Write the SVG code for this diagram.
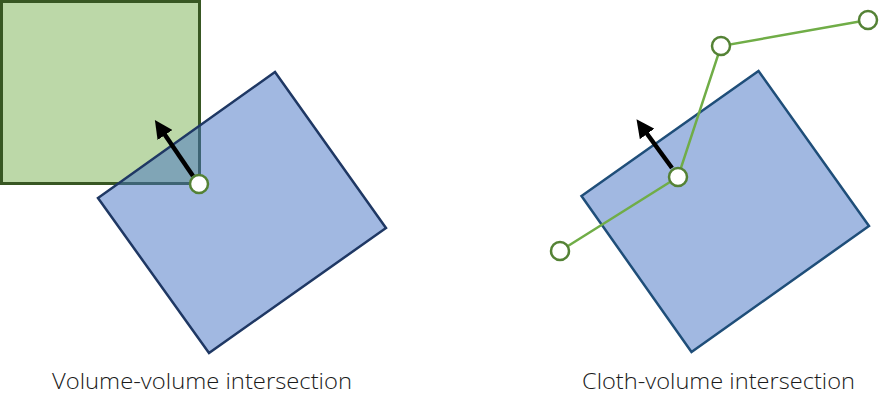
<svg xmlns="http://www.w3.org/2000/svg" width="883" height="403" viewBox="0 0 883 403">
<style>
.vol{fill:#4472c4;fill-opacity:0.5;stroke:#1f3864;stroke-width:2.5;stroke-linejoin:miter}
.pt{fill:#fff;stroke:#548235;stroke-width:2.5}
.cloth{fill:none;stroke:#70ad47;stroke-width:2.5}
.nrm{stroke:#000;stroke-width:4.5;fill:none}
.lbl{font-family:"Open Sans","Noto Sans",sans-serif;font-size:22px;font-weight:300;fill:#1a1a1a}
</style>
<defs>
<marker id="ah" viewBox="0 0 10 10" refX="2" refY="5" markerWidth="4" markerHeight="4" orient="auto" markerUnits="strokeWidth">
<path d="M0,0 L10,5 L0,10 Z" fill="#000"/>
</marker>
</defs>
<g id="left-scene">
<rect id="green-volume" x="1.5" y="1.5" width="198" height="182" fill="#70ad47" fill-opacity="0.47" stroke="#385723" stroke-width="3"/>
<polygon id="blue-volume-left" class="vol" points="275,72 386,228 209,353 98,198"/>
<g id="connectors-left"><line class="nrm" x1="193" y1="176" x2="163" y2="132" marker-end="url(#ah)"/></g>
<circle id="point-left" class="pt" cx="199" cy="184" r="9"/>
</g>
<g id="right-scene">
<polygon id="blue-volume-right" class="vol" points="758.5,71 869,226 691.5,352 581.5,196" style="stroke:#1f4e79"/>
<g id="connectors-right">
<polyline class="cloth" points="560,251 678,177 721,46 868,20"/>
<line class="nrm" x1="672" y1="168" x2="645" y2="131" marker-end="url(#ah)"/>
</g>
<circle id="p1" class="pt" cx="560" cy="251" r="9"/>
<circle id="p2" class="pt" cx="678" cy="177" r="9"/>
<circle id="p3" class="pt" cx="721" cy="46" r="9"/>
<circle id="p4" class="pt" cx="868" cy="20" r="9"/>
</g>
<text class="lbl" x="52" y="389" textLength="300" lengthAdjust="spacingAndGlyphs">Volume-volume intersection</text>
<text class="lbl" x="582" y="389" textLength="273" lengthAdjust="spacingAndGlyphs">Cloth-volume intersection</text>
</svg>
